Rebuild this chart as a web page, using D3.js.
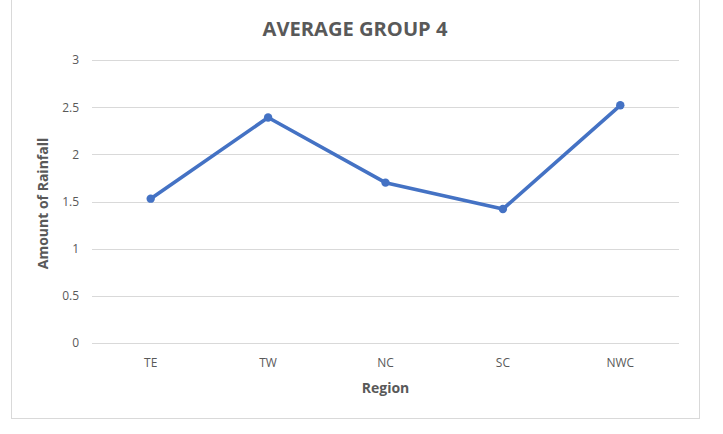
<!DOCTYPE html>
<html><head><meta charset="utf-8">
<script src="https://cdn.jsdelivr.net/npm/d3@7"></script>
<style>body{margin:0;background:#fff}svg{display:block}</style>
</head><body>
<svg id="c" width="723" height="434"></svg>
<script>
const categories = ["TE","TW","NC","SC","NWC"];
const values = [1.53, 2.39, 1.70, 1.42, 2.52];
const yTicks = [0, 0.5, 1, 1.5, 2, 2.5, 3];
const title = "AVERAGE GROUP 4";
const xTitle = "Region";
const yTitle = "Amount of Rainfall";

const svg = d3.select("#c");
const font = "'Open Sans', 'Liberation Sans', sans-serif";
const grey = "#595959";

svg.append("rect").attr("x",11.5).attr("y",-2).attr("width",688).attr("height",420.5)
  .attr("fill","#fff").attr("stroke","#d9d9d9").attr("stroke-width",1);

const pL = 92, pR = 679, pT = 60, pB = 343;
const x = d3.scaleBand().domain(categories).range([pL,pR]);
const y = d3.scaleLinear().domain([0,3]).range([pB, pT]);

// gridlines
svg.append("g").selectAll("line").data(yTicks).join("line")
  .attr("x1",pL).attr("x2",pR)
  .attr("y1",d=>Math.round(y(d))+0.5).attr("y2",d=>Math.round(y(d))+0.5)
  .attr("stroke","#d9d9d9").attr("stroke-width",1);

// y axis labels
const yAxis = d3.axisLeft(y).tickValues(yTicks).tickSize(0).tickPadding(0).tickFormat(d=>String(d));
const yg = svg.append("g").attr("transform",`translate(${pL-13},0)`).call(yAxis);
yg.select(".domain").remove();
yg.selectAll("text").attr("fill",grey).style("font-family",font).style("font-size","12px");

// x axis labels
const xAxis = d3.axisBottom(x).tickSize(0).tickPadding(0);
const xg = svg.append("g").attr("transform",`translate(0,${pB+15})`).call(xAxis);
xg.select(".domain").remove();
xg.selectAll("text").attr("fill",grey).style("font-family",font).style("font-size","12px");

// line
const line = d3.line().x((d,i)=>x(categories[i])+x.bandwidth()/2).y(d=>y(d));
svg.append("path").datum(values).attr("d",line).attr("fill","none")
  .attr("stroke","#4472C4").attr("stroke-width",3.6).attr("stroke-linejoin","round");
svg.append("g").selectAll("circle").data(values).join("circle")
  .attr("cx",(d,i)=>x(categories[i])+x.bandwidth()/2).attr("cy",d=>y(d)).attr("r",4.2)
  .attr("fill","#4472C4");

// titles
svg.append("text").attr("x",355).attr("y",36).attr("text-anchor","middle")
  .attr("fill",grey).style("font-family",font).style("font-size","19px").style("font-weight","bold")
  .attr("textLength",185).attr("lengthAdjust","spacingAndGlyphs")
  .text(title);
svg.append("text").attr("x",(pL+pR)/2).attr("y",393).attr("text-anchor","middle")
  .attr("fill",grey).style("font-family",font).style("font-size","14px").style("font-weight","bold")
  .text(xTitle);
svg.append("text").attr("transform",`translate(48,${(pT+pB)/2 + 2}) rotate(-90)`).attr("text-anchor","middle")
  .attr("fill",grey).style("font-family",font).style("font-size","14px").style("font-weight","bold")
  .text(yTitle);
</script>
</body></html>
